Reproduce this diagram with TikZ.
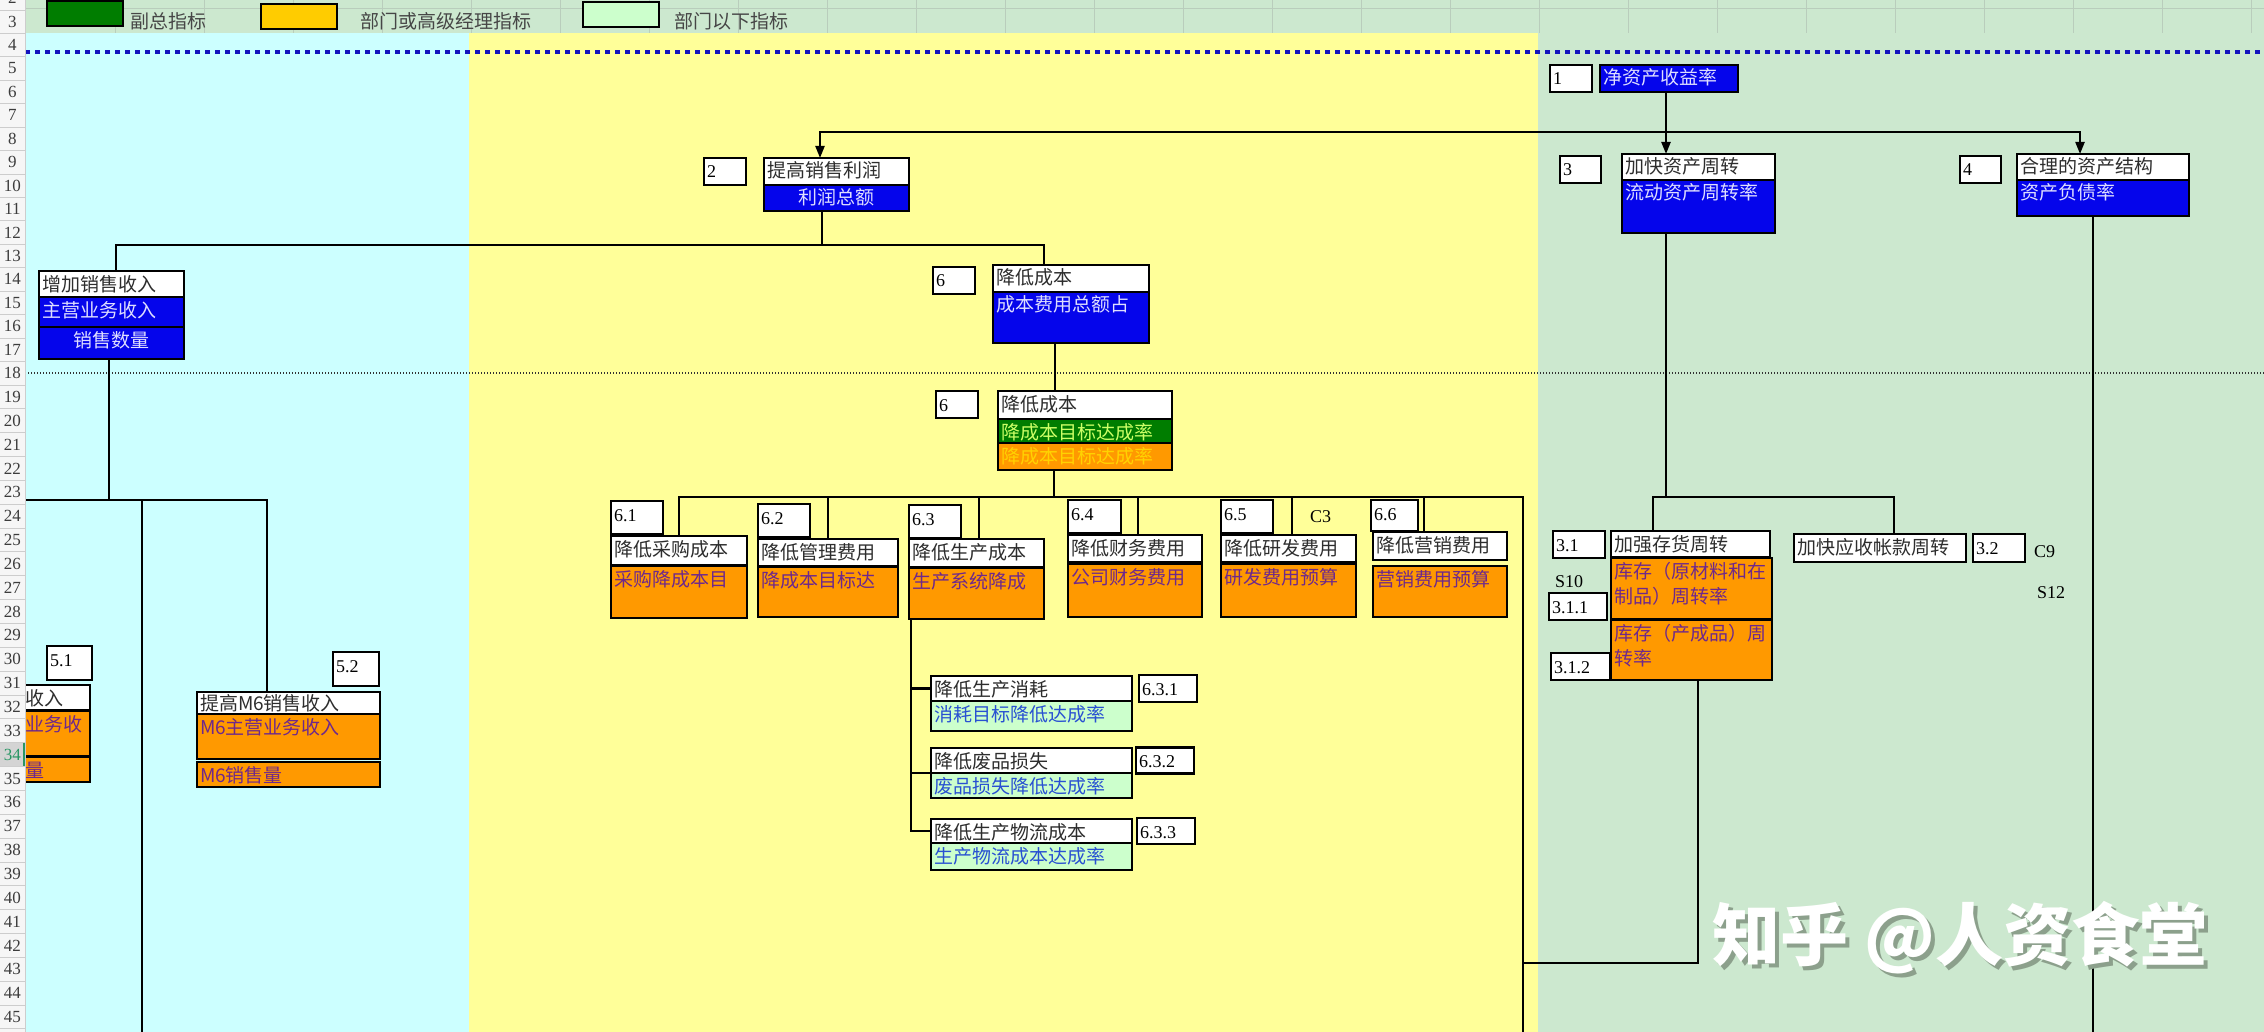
\documentclass[tikz,border=0pt]{standalone}
\usepackage{fontspec}
\setmainfont{Liberation Serif}
\newfontfamily\cjk{Noto Sans CJK SC}
\usepackage{tikz}
\usetikzlibrary{arrows.meta, positioning}

\definecolor{bgband}{RGB}{204,232,207}
\definecolor{bgcyan}{RGB}{204,255,255}
\definecolor{bgyellow}{RGB}{255,255,153}
\definecolor{bggreen}{RGB}{204,232,207}
\definecolor{gridc}{RGB}{185,205,188}
\definecolor{hdrfill}{RGB}{246,246,246}
\definecolor{hdrline}{RGB}{205,205,205}
\definecolor{rowtxt}{RGB}{60,60,60}
\definecolor{rowsel}{RGB}{212,212,212}
\definecolor{rowgreen}{RGB}{40,150,100}
\definecolor{dotblue}{RGB}{20,20,190}
\definecolor{bluebox}{RGB}{5,5,235}
\definecolor{orangebox}{RGB}{255,153,0}
\definecolor{greenbox}{RGB}{0,125,0}
\definecolor{paleg}{RGB}{204,255,204}
\definecolor{goldbox}{RGB}{255,204,0}
\definecolor{titletxt}{RGB}{45,45,45}
\definecolor{lavtxt}{RGB}{222,222,255}
\definecolor{purpletxt}{RGB}{110,40,140}
\definecolor{bluetxt}{RGB}{40,80,210}
\definecolor{limetxt}{RGB}{204,255,102}
\definecolor{goldtxt}{RGB}{255,210,0}
\definecolor{legtxtc}{RGB}{70,70,70}
\definecolor{wmshadow}{RGB}{140,160,140}

\begin{document}
\begin{tikzpicture}[x=1pt, y=-1pt,
    cell/.style={draw, line width=2.4pt, anchor=north west, inner xsep=3pt, inner ysep=0pt,
                 outer sep=0pt, align=left, text height=20pt, font=\cjk\fontsize{19}{25}\selectfont},
    head/.style={cell, fill=white, text=titletxt},
    bluecell/.style={cell, fill=bluebox, text=lavtxt},
    orangecell/.style={cell, fill=orangebox, text=purpletxt},
    palecell/.style={cell, fill=paleg, text=bluetxt},
    numbox/.style={cell, fill=white, text=black, font=\fontsize{18}{20}\selectfont},
    swatch/.style={draw, line width=2pt, anchor=north west, minimum width=76pt,
                   minimum height=25pt, inner sep=0pt, outer sep=0pt},
    legtxt/.style={anchor=west, text=legtxtc, font=\cjk\fontsize{19}{20}\selectfont, inner sep=0pt},
    tag/.style={anchor=west, font=\fontsize{18}{20}\selectfont, inner sep=0pt},
    link/.style={line width=2.2pt},
    arrow/.style={link, -{Triangle[width=9pt, length=12pt]}},
    rowno/.style={font=\fontsize{17}{17}\selectfont, text=rowtxt, inner sep=0pt},
    wmark/.style={font=\cjk\bfseries\fontsize{68}{68}\selectfont, inner sep=0pt}
]
    \useasboundingbox (0,0) rectangle (2264,1032);
    \clip (0,0) rectangle (2264,1032);

    % sheet background
    \fill[bgband] (0,0) rectangle (2264,33);
    \foreach \k in {0,...,24}
        \draw[gridc, line width=1pt] (115+89*\k,0) -- (115+89*\k,33);
    \draw[gridc, line width=1pt] (0,9) -- (2264,9);
    \fill[bgcyan]   (25,33)   rectangle (469,1032);
    \fill[bgyellow] (469,33)  rectangle (1538,1032);
    \fill[bggreen]  (1538,33) rectangle (2264,1032);
    \draw[dotblue, line width=4.5pt, dash pattern=on 5pt off 5pt] (25,52) -- (2264,52);
    \draw[black!80, line width=1.2pt, dash pattern=on 1.2pt off 1.8pt] (25,373) -- (2264,373);

    % legend
    \node[swatch, fill=greenbox] (lgA) at (47,1) {};
    \node[legtxt] (lgAt) at (130,21) {副总指标};
    \node[swatch, fill=goldbox] (lgB) at (261,4) {};
    \node[legtxt] (lgBt) at (360,21) {部门或高级经理指标};
    \node[swatch, fill=paleg] (lgC) at (583,2) {};
    \node[legtxt] (lgCt) at (674,21) {部门以下指标};

    % level 1
    \node[numbox, text width=36pt, text depth=7pt] (n1num) at (1550,65) {1};
    \node[bluecell, text width=132pt, text depth=7pt] (n1) at (1600,65) {净资产收益率};

    % level 2
    \node[numbox, text width=36pt, text depth=7pt] (n2num) at (704,158) {2};
    \node[head, text width=139pt, text depth=7pt] (n2t) at (764,158) {提高销售利润};
    \node[bluecell, align=center, text width=139pt, text depth=6pt] (n2m) at (764,185) {利润总额};

    \node[numbox, text width=35pt, text depth=7pt] (n3num) at (1560,156) {3};
    \node[head, text width=147pt, text depth=6pt] (n3t) at (1622,154) {加快资产周转};
    \node[bluecell, text width=147pt, text depth=33pt] (n3m) at (1622,180) {流动资产周转率};

    \node[numbox, text width=35pt, text depth=7pt] (n4num) at (1960,156) {4};
    \node[head, text width=166pt, text depth=6pt] (n4t) at (2017,154) {合理的资产结构};
    \node[bluecell, text width=166pt, text depth=16pt] (n4m) at (2017,180) {资产负债率};

    % level 3
    \node[head, text width=139pt, text depth=6pt] (n5t) at (39,271) {增加销售收入};
    \node[bluecell, text width=139pt, text depth=10pt] (n5m) at (39,297) {主营业务收入};
    \node[bluecell, align=center, text width=139pt, text depth=12pt] (n5q) at (39,327) {销售数量};

    \node[numbox, text width=36pt, text depth=7pt] (n6num) at (933,267) {6};
    \node[head, text width=150pt, text depth=7pt] (n6t) at (993,265) {降低成本};
    \node[bluecell, text width=150pt, text depth=31pt] (n6m) at (993,292) {成本费用总额占};

    % cost block
    \node[numbox, text width=36pt, text depth=7pt] (n6bnum) at (936,391) {6};
    \node[head, text width=168pt, text depth=8pt] (n6bt) at (998,391) {降低成本};
    \node[cell, fill=greenbox, text=limetxt, text width=168pt, text depth=4pt] (n6bg) at (998,419) {降成本目标达成率};
    \node[cell, fill=orangebox, text=goldtxt, text width=168pt, text depth=7pt] (n6bo) at (998,443) {降成本目标达成率};

    \node[numbox, text width=46pt, text depth=13pt] (n61num) at (611,501) {6.1};
    \node[head, text width=130pt, text depth=9pt] (n61t) at (611,536) {降低采购成本};
    \node[orangecell, text width=130pt, text depth=32pt] (n61m) at (611,566) {采购降成本目};

    \node[numbox, text width=46pt, text depth=13pt] (n62num) at (758,504) {6.2};
    \node[head, text width=134pt, text depth=7pt] (n62t) at (758,539) {降低管理费用};
    \node[orangecell, text width=134pt, text depth=30pt] (n62m) at (758,567) {降成本目标达};

    \node[numbox, text width=46pt, text depth=13pt] (n63num) at (909,505) {6.3};
    \node[head, text width=129pt, text depth=8pt] (n63t) at (909,539) {降低生产成本};
    \node[orangecell, text width=129pt, text depth=31pt] (n63m) at (909,568) {生产系统降成};

    \node[numbox, text width=47pt, text depth=13pt] (n64num) at (1068,500) {6.4};
    \node[head, text width=128pt, text depth=7pt] (n64t) at (1068,535) {降低财务费用};
    \node[orangecell, text width=128pt, text depth=33pt] (n64m) at (1068,564) {公司财务费用};

    \node[numbox, text width=46pt, text depth=13pt] (n65num) at (1221,500) {6.5};
    \node[head, text width=129pt, text depth=7pt] (n65t) at (1221,535) {降低研发费用};
    \node[orangecell, text width=129pt, text depth=33pt] (n65m) at (1221,564) {研发费用预算};
    \node[tag] (c3) at (1310,517) {C3};

    \node[numbox, text width=41pt, text depth=11pt] (n66num) at (1371,500) {6.6};
    \node[head, text width=128pt, text depth=8pt] (n66t) at (1373,532) {降低营销费用};
    \node[orangecell, text width=128pt, text depth=31pt] (n66m) at (1373,566) {营销费用预算};

    % production cost details
    \node[head, text width=195pt, text depth=5pt] (n631t) at (931,676) {降低生产消耗};
    \node[palecell, text width=195pt, text depth=10pt] (n631m) at (931,701) {消耗目标降低达成率};
    \node[numbox, text width=52pt, text depth=7pt, right=7pt of n631t] (n631num) {6.3.1};

    \node[head, text width=195pt, text depth=5pt] (n632t) at (931,748) {降低废品损失};
    \node[palecell, text width=195pt, text depth=5pt] (n632m) at (931,773) {废品损失降低达成率};
    \node[numbox, text width=52pt, text depth=6pt, right=4pt of n632t] (n632num) {6.3.2};

    \node[head, text width=195pt, text depth=4pt] (n633t) at (931,819) {降低生产物流成本};
    \node[palecell, text width=195pt, text depth=7pt] (n633m) at (931,843) {生产物流成本达成率};
    \node[numbox, text width=52pt, text depth=6pt, right=5pt of n633t] (n633num) {6.3.3};

    % asset turnover block
    \node[numbox, text width=46pt, text depth=7pt] (n31num) at (1553,531) {3.1};
    \node[head, text width=153pt, text depth=6pt] (n31t) at (1611,531) {加强存货周转};
    \node[orangecell, text width=155pt, text depth=41pt] (n31a) at (1611,558) {库存（原材料和在\\制品）周转率};
    \node[orangecell, text width=155pt, text depth=40pt] (n31b) at (1611,620) {库存（产成品）周\\转率};
    \node[tag] (s10) at (1555,582) {S10};
    \node[numbox, text width=52pt, text depth=7pt] (n311num) at (1549,593) {3.1.1};
    \node[numbox, text width=53pt, text depth=7pt] (n312num) at (1551,653) {3.1.2};

    \node[head, text width=166pt, text depth=8pt] (n32t) at (1794,534) {加快应收帐款周转};
    \node[numbox, text width=46pt, text depth=8pt, right=7pt of n32t] (n32num) {3.2};
    \node[tag] (c9) at (2034,552) {C9};
    \node[tag] (s12) at (2037,593) {S12};

    % sales block
    \node[numbox, text width=39pt, text depth=14pt] (n51num) at (47,646) {5.1};
    \node[head, text width=62pt, text depth=5pt] (n51t) at (22,685) {收入};
    \node[orangecell, text width=62pt, text depth=25pt] (n51a) at (22,711) {业务收};
    \node[orangecell, text width=62pt, text depth=5pt] (n51b) at (22,757) {量};

    \node[numbox, text width=40pt, text depth=14pt] (n52num) at (333,652) {5.2};
    \node[head, text width=177pt, text height=18pt, text depth=4pt] (n52t) at (197,692) {提高M6销售收入};
    \node[orangecell, text width=177pt, text depth=25pt] (n52a) at (197,714) {M6主营业务收入};
    \node[orangecell, text width=177pt, text depth=5pt] (n52b) at (197,762) {M6销售量};

    % connectors
    \coordinate (a2) at (820,132);
    \coordinate (a3) at (1666,132);
    \coordinate (a4) at (2080,132);
    \draw[arrow] (a3 |- n1.south) -- (a3 |- n3t.north);
    \draw[link, {Triangle[width=9pt, length=12pt]}-{Triangle[width=9pt, length=12pt]}]
        (a2 |- n2t.north) -- (a2) -- (a4) -- (a4 |- n4t.north);

    \coordinate (b0) at (822,245);
    \coordinate (b5) at (116,245);
    \coordinate (b6) at (1044,245);
    \draw[link] (b0 |- n2m.south) -- (b0);
    \draw[link] (b5 |- n5t.north) -- (b5) -- (b6) -- (b6 |- n6t.north);

    \coordinate (c6) at (1055,380);
    \draw[link] (c6 |- n6m.south) -- (c6 |- n6bt.north);

    \coordinate (d0) at (1054,497);
    \coordinate (d1) at (679,497);
    \coordinate (d2) at (828,497);
    \coordinate (d3) at (979,497);
    \coordinate (d4) at (1138,497);
    \coordinate (d5) at (1292,497);
    \coordinate (d6) at (1424,497);
    \coordinate (dr) at (1523,497);
    \coordinate (dend) at (1523,1032);
    \draw[link] (d0 |- n6bo.south) -- (d0);
    \draw[link] (d1 |- n61t.north) -- (d1) -- (dr) -- (dend);
    \draw[link] (d2) -- (d2 |- n62t.north);
    \draw[link] (d3) -- (d3 |- n63t.north);
    \draw[link] (d4) -- (d4 |- n64t.north);
    \draw[link] (d5) -- (d5 |- n65t.north);
    \draw[link] (d6) -- (d6 |- n66t.north);

    \coordinate (f0) at (911,831);
    \draw[link] (f0 |- n63m.south) -- (f0 |- n633t.west) -- (n633t.west);
    \draw[link] (f0 |- n631t.west) -- (n631t.west);
    \draw[link] (f0 |- n632t.south west) -- (n632t.south west);

    \coordinate (g0) at (1666,497);
    \coordinate (g1) at (1653,497);
    \coordinate (g2) at (1894,497);
    \draw[link] (g0 |- n3m.south) -- (g0);
    \draw[link] (g1 |- n31t.north) -- (g1) -- (g2) -- (g2 |- n32t.north);

    \coordinate (e1) at (1523,963);
    \coordinate (e2) at (1698,963);
    \draw[link] (e2 |- n31b.south) -- (e2) -- (e1);

    \coordinate (h0) at (2093,1032);
    \draw[link] (h0 |- n4m.south) -- (h0);

    \coordinate (k0) at (109,500);
    \coordinate (kl) at (0,500);
    \coordinate (k1) at (142,500);
    \coordinate (k1e) at (142,1032);
    \coordinate (k2) at (267,500);
    \draw[link] (k0 |- n5q.south) -- (k0);
    \draw[link] (kl) -- (k2) -- (k2 |- n52t.north);
    \draw[link] (k1) -- (k1e);

    % watermark
    \node[wmark, text=wmshadow] (wmsh) at (1964,942) {知乎 @人资食堂};
    \node[wmark, text=white] (wm) at (1960,938) {知乎 @人资食堂};

    % row header
    \fill[hdrfill] (0,0) rectangle (25,1032);
    \fill[rowsel] (0,743) rectangle (25,766);
    \draw[rowgreen, line width=2pt] (24,743) -- (24,766);
    \draw[hdrline, line width=1pt] (25,0) -- (25,1032);
    \foreach \n in {2,...,45}{
        \pgfmathsetmacro\yc{\n<18 ? 373-(18-\n)*23.43 : 373+(\n-18)*23.85}
        \node[rowno] (row\n) at (12.5,\yc) {\ifnum\n=34 \color{rowgreen}\fi\n};
        \draw[hdrline, line width=0.8pt] (0,\yc+11.9) -- (25,\yc+11.9);
    }
\end{tikzpicture}
\end{document}
